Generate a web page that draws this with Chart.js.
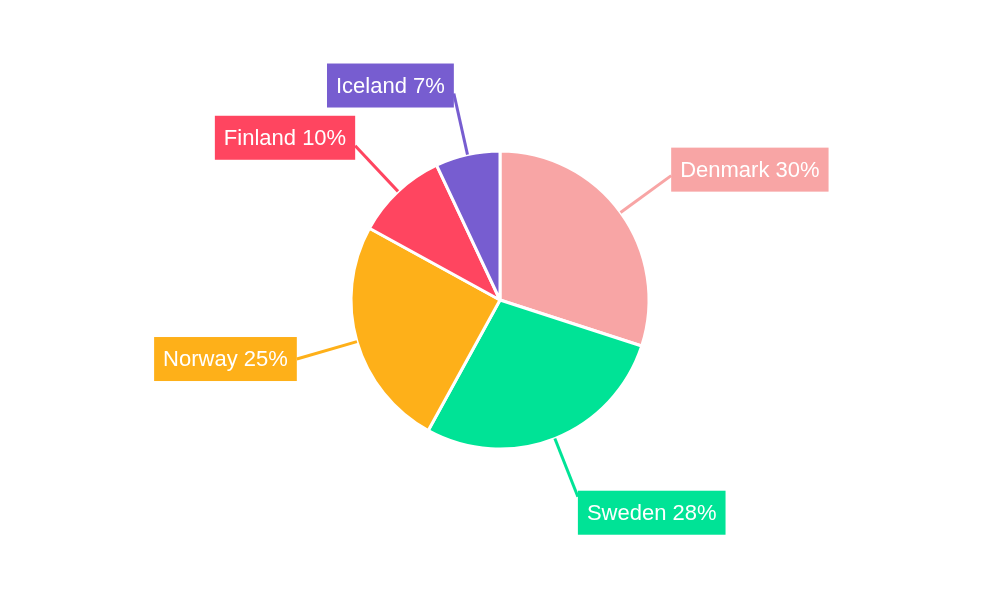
<!DOCTYPE html>
<html>
<head>
<meta charset="utf-8">
<script src="https://cdn.jsdelivr.net/npm/chart.js@4"></script>
<style>
  body { margin: 0; background: #fff; }
  #wrap { width: 1000px; height: 600px; }
</style>
</head>
<body>
<div id="wrap"><canvas id="pie" width="1000" height="600"></canvas></div>
<script>
const countries = ['Denmark', 'Sweden', 'Norway', 'Finland', 'Iceland'];
const shares = [30, 28, 25, 10, 7];
const colors = ['#F8A5A5', '#00E396', '#FEB019', '#FF4560', '#775DD0'];

// labels outside the pie, joined to their slice by a short line
const calloutPlugin = {
    id: 'callouts',
    afterDatasetsDraw(chart) {
        const ctx = chart.ctx;
        const meta = chart.getDatasetMeta(0);
        ctx.save();
        ctx.font = '22px "Liberation Sans", Arial, sans-serif';
        ctx.textBaseline = 'middle';
        meta.data.forEach((arc, i) => {
            const mid = (arc.startAngle + arc.endAngle) / 2;
            const r = arc.outerRadius;
            const x1 = arc.x + Math.cos(mid) * r, y1 = arc.y + Math.sin(mid) * r;
            const x2 = arc.x + Math.cos(mid) * r * 1.42, y2 = arc.y + Math.sin(mid) * r * 1.42;
            ctx.strokeStyle = colors[i];
            ctx.lineWidth = 3;
            ctx.beginPath(); ctx.moveTo(x1, y1); ctx.lineTo(x2, y2); ctx.stroke();

            const text = countries[i] + ' ' + shares[i] + '%';
            const w = ctx.measureText(text).width + 18, h = 44;
            const right = Math.cos(mid) >= 0;
            const bx = right ? x2 : x2 - w;
            let by = y2 - h / 2;
            if (i === 3 || i === 4) by = y2 - h / 2 - 8;
            if (i === 1) by = y2 - 6;
            if (i === 0) by = y2 - h / 2 - 6;
            ctx.fillStyle = colors[i];
            ctx.fillRect(bx, by, w, h);
            ctx.fillStyle = '#fff';
            ctx.fillText(text, bx + 9, by + h / 2 + 1);
        });
        ctx.restore();
    }
};

new Chart(document.getElementById('pie').getContext('2d'), {
    type: 'pie',
    data: {
        labels: countries,
        datasets: [{ data: shares, backgroundColor: colors, borderColor: '#fff', borderWidth: 3 }]
    },
    options: {
        responsive: false,
        animation: false,
        radius: 149,
        plugins: { legend: { display: false }, tooltip: { enabled: false } }
    },
    plugins: [calloutPlugin]
});
</script>
</body>
</html>
